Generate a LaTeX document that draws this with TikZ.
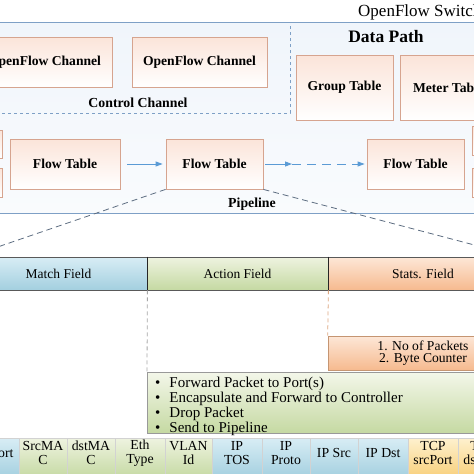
\documentclass[tikz,border=0pt]{standalone}
\usepackage{fontspec}
\setmainfont{Liberation Serif}
\usetikzlibrary{arrows.meta, positioning, calc}
\definecolor{swline}{RGB}{126,160,198}
\definecolor{swfill}{RGB}{240,245,251}
\definecolor{tblline}{RGB}{214,164,143}
\definecolor{tblfill}{RGB}{251,228,217}
\definecolor{flowblue}{RGB}{91,155,213}
\definecolor{zoomgrey}{RGB}{92,108,128}
\definecolor{bluetop}{RGB}{216,237,245}
\definecolor{bluebot}{RGB}{163,207,223}
\definecolor{greentop}{RGB}{238,243,224}
\definecolor{greenbot}{RGB}{197,217,162}
\definecolor{orangetop}{RGB}{253,231,215}
\definecolor{orangebot}{RGB}{246,186,143}
\definecolor{tcptop}{RGB}{254,241,206}
\definecolor{tcpbot}{RGB}{248,207,122}

\begin{document}
\begin{tikzpicture}[x=1pt, y=-1pt,
  tbl/.style={draw=tblline, line width=0.8pt, top color=tblfill, bottom color=white, inner sep=0pt,
    font=\fontsize{13.6}{15}\selectfont\bfseries},
  lbl/.style={inner sep=0pt, font=\fontsize{13.8}{15}\selectfont\bfseries},
  flowarr/.style={-{Triangle[length=7pt,width=5pt]}, flowblue, line width=0.9pt},
  zoomln/.style={zoomgrey, dash pattern=on 6pt off 4pt, line width=0.8pt},
  fieldbox/.style={draw=black!65, line width=0.8pt, minimum height=33pt, inner sep=0pt,
    font=\fontsize{13.5}{15}\selectfont},
  celltxt/.style={inner sep=0pt, align=center, font=\fontsize{13.8}{13.8}\selectfont},
  bluecell/.style={top color=bluetop, bottom color=bluebot},
  greencell/.style={top color=greentop, bottom color=greenbot},
  tcpcell/.style={top color=tcptop, bottom color=tcpbot}]
  \useasboundingbox (0,0) rectangle (474,474);
  \clip (0,0) rectangle (474,474);

  % switch and control channel
  \node[draw=swline, line width=1pt, top color=swfill, bottom color=white!60!swfill,
    minimum width=500pt, minimum height=191pt] (sw) at (240,117.5) {};
  \node[draw=swline, dashed, line width=0.8pt, minimum width=300pt, minimum height=91pt] (ctrl) at (140,67.5) {};
  \node[anchor=base west, inner sep=0pt, font=\fontsize{17}{19}\selectfont] (title) at (358,16) {OpenFlow Switch};
  \node[anchor=base, inner sep=0pt, font=\fontsize{17.5}{19}\selectfont\bfseries] (dpath) at (386,42) {Data Path};
  \node[lbl, anchor=base] (ctrltxt) at (138,107) {Control Channel};
  \node[lbl, anchor=base] (pipetxt) at (252,207) {Pipeline};

  \node[tbl, minimum width=135pt, minimum height=50pt] (ofc1) at (44.5,62) {OpenFlow Channel};
  \node[tbl, minimum width=135pt, minimum height=50pt] (ofc2) at (199.5,62) {OpenFlow Channel};
  \node[tbl, minimum width=97pt, minimum height=65pt] (grp) at (344.5,87.5) {Group Table};
  \node[tbl, minimum width=97pt, minimum height=65pt] (mtr) at (448.5,87.5) {Meter Table};

  % pipeline
  \node[tbl, minimum width=22pt, minimum height=28pt] (ftl1) at (-9,144) {};
  \node[tbl, minimum width=22pt, minimum height=29pt] (ftl2) at (-9,182.5) {};
  \node[tbl, minimum width=28pt, minimum height=29pt] (ftr1) at (486,140.5) {};
  \node[tbl, minimum width=28pt, minimum height=29pt] (ftr2) at (486,182.5) {};
  \node[tbl, minimum width=110pt, minimum height=50pt] (ft1) at (65,164) {Flow Table};
  \node[tbl, minimum width=97pt, minimum height=50pt] (ft2) at (214.5,164) {Flow Table};
  \node[tbl, minimum width=97pt, minimum height=50pt] (ft3) at (415.5,164) {Flow Table};
  \coordinate (brk) at (292,164);
  \draw[flowarr, shorten <=7pt, shorten >=3pt] (ft1) -- (ft2);
  \draw[flowarr, shorten <=2pt] (ft2) -- (brk);
  \draw[flowarr, dash pattern=on 9pt off 6pt, shorten >=2pt] (brk) -- (ft3);

  % flow entry fields
  \node[fieldbox, bluecell, minimum width=177pt] (match) at (58.5,273.5) {Match Field};
  \node[fieldbox, greencell, minimum width=181pt] (action) at (237.5,273.5) {Action Field};
  \node[fieldbox, top color=orangetop, bottom color=orangebot, minimum width=190pt] (stats) at (423,273.5) {Stats. Field};
  \draw[black!85, line width=1.3pt] (match.north east) -- (match.south east);
  \draw[black!85, line width=1.3pt] (action.north east) -- (action.south east);
  \draw[zoomln] (ft2.south west) -- (match.north west);
  \draw[zoomln] (ft2.south east) -- (stats.north east);

  \node[draw=orangebot!80!black, line width=0.6pt, top color=orangetop, bottom color=orangebot,
    minimum width=190pt, minimum height=34pt, inner sep=0pt, align=center,
    font=\fontsize{13.6}{12.5}\selectfont] (statsbox) at (423,353) {1. No of Packets\\2. Byte Counter};
  \node[draw=gray!80, line width=0.6pt, top color=greentop!70!white, bottom color=greenbot,
    anchor=north west, minimum width=371pt, minimum height=61pt] (actbox) at (147,372) {};
  \node[anchor=north west, inner sep=0pt, align=left, font=\fontsize{15}{15}\selectfont] (acttxt) at (155,376.5)
    {\textbullet\hspace{9pt}Forward Packet to Port(s)\\
     \textbullet\hspace{9pt}Encapsulate and Forward to Controller\\
     \textbullet\hspace{9pt}Drop Packet\\
     \textbullet\hspace{9pt}Send to Pipeline};
  \draw[gray!70, line width=0.8pt, dash pattern=on 4pt off 3pt] (match.south east) -- (actbox.north west);
  \draw[orangebot!90!black, line width=0.8pt, dash pattern=on 4pt off 3pt] (action.south east) -- (statsbox.north west);

  % header fields
  \foreach \l/\r/\col/\txt [count=\i] in {-30/19/bluecell/In Port, 19/67/greencell/{SrcMA\\C},
      67/115/greencell/{dstMA\\C}, 115/165/greencell/{Eth\\Type}, 165/212/greencell/{VLAN\\Id},
      212/262/bluecell/{IP\\TOS}, 262/310/bluecell/{IP\\Proto}, 310/358/bluecell/IP Src,
      358/408/bluecell/IP Dst, 408/458/tcpcell/{TCP\\srcPort}, 458/508/tcpcell/{TCP\\dstPort}}
  {
    \shadedraw[\col, draw=gray!35, line width=0.8pt] (\l,438) rectangle (\r,478);
    \node[celltxt] (c\i) at ({(\l+\r)/2},453) {\txt};
  }
\end{tikzpicture}
\end{document}
